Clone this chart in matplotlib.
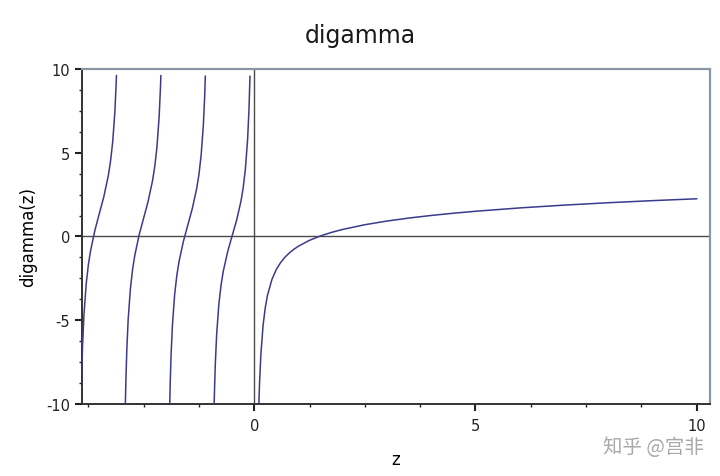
import numpy as np
import matplotlib
matplotlib.use("Agg")
import matplotlib.pyplot as plt
from matplotlib.ticker import MultipleLocator

plt.rcParams["axes.unicode_minus"] = False

# digamma values, one list per branch between the poles
x_b4 = [-3.93, -3.92, -3.915, -3.91, -3.9, -3.88, -3.85, -3.8, -3.75, -3.7, -3.6, -3.5,
        -3.4, -3.3, -3.25, -3.2, -3.15, -3.12, -3.115]
y_b4 = [-12.56, -10.75, -10.0, -9.33, -8.19, -6.46, -4.69, -2.86, -1.69, -0.85, 0.39, 1.39,
        2.38, 3.62, 4.47, 5.64, 7.46, 9.23, 9.60]

x_b3 = [-2.92, -2.915, -2.91, -2.9, -2.88, -2.85, -2.8, -2.75, -2.7, -2.6, -2.5,
        -2.4, -2.3, -2.25, -2.2, -2.15, -2.12, -2.111]
y_b3 = [-11.0, -10.25, -9.58, -8.44, -6.71, -4.95, -3.13, -1.96, -1.12, 0.12, 1.10,
        2.09, 3.32, 4.16, 5.32, 7.15, 8.90, 9.60]

x_b2 = [-1.925, -1.92, -1.915, -1.91, -1.9, -1.88, -1.85, -1.8, -1.75, -1.7, -1.6, -1.5,
        -1.4, -1.3, -1.25, -1.2, -1.15, -1.12, -1.106]
y_b2 = [-12.19, -11.35, -10.60, -9.93, -8.79, -7.06, -5.31, -3.48, -2.32, -1.49, -0.27, 0.70,
        1.67, 2.88, 3.71, 4.87, 6.68, 8.43, 9.57]

x_b1 = [-0.91, -0.9, -0.88, -0.85, -0.8, -0.75, -0.7, -0.6, -0.5, -0.4, -0.3,
        -0.25, -0.2, -0.15, -0.12, -0.1, -0.097]
y_b1 = [-10.45, -9.31, -7.59, -5.85, -4.04, -2.89, -2.07, -0.90, 0.04, 0.96, 2.11,
        2.91, 4.04, 5.81, 7.54, 9.25, 9.56]

x_b0 = [0.1, 0.11, 0.12, 0.15, 0.2, 0.25, 0.3, 0.4, 0.5, 0.6, 0.7, 0.8, 0.9, 1.0,
        1.25, 1.5, 1.75, 2.0, 2.5, 3.0, 3.5, 4.0, 4.5, 5.0, 6.0, 7.0, 8.0, 9.0, 10.0]
y_b0 = [-10.42, -9.50, -8.73, -7.02, -5.29, -4.23, -3.50, -2.56, -1.96, -1.54, -1.22, -0.965,
        -0.755, -0.577, -0.227, 0.037, 0.248, 0.423, 0.703, 0.923, 1.103, 1.256, 1.389,
        1.506, 1.706, 1.873, 2.016, 2.141, 2.252]

branches = [(x_b4, y_b4), (x_b3, y_b3), (x_b2, y_b2), (x_b1, y_b1), (x_b0, y_b0)]

x_ticks = [0, 5, 10]
y_ticks = [-10, -5, 0, 5, 10]

line_color = "#3b3b8c"
frame_color = "#8a96a3"

fig = plt.figure(figsize=(7.2, 4.77), dpi=100)
ax = fig.add_axes([0.1135, 0.151, 0.8725, 0.7022])

for xs, ys in branches:
    ax.plot(xs, ys, color=line_color, linewidth=1.1, zorder=3)

# zero lines
ax.axhline(0, color="#4a4a4a", linewidth=1.0, zorder=2)
ax.axvline(0, color="#4a4a4a", linewidth=1.0, zorder=2)

ax.set_xlim(-3.9, 10.3)
ax.set_ylim(-10, 10)

ax.set_xticks(x_ticks)
ax.set_yticks(y_ticks)
ax.xaxis.set_minor_locator(MultipleLocator(1.25))
ax.yaxis.set_minor_locator(MultipleLocator(1.25))
ax.tick_params(which="major", direction="out", length=5, width=1.5, labelsize=10.5, colors="#222222")
ax.tick_params(which="minor", direction="out", length=2, width=1.0, colors="#222222")
ax.tick_params(axis="x", pad=5)

for side in ("left", "bottom"):
    ax.spines[side].set_color("#333333")
    ax.spines[side].set_linewidth(1.4)
for side in ("top", "right"):
    ax.spines[side].set_color(frame_color)
    ax.spines[side].set_linewidth(1.6)

fig.text(0.5, 0.925, "digamma", ha="center", va="center", fontsize=17, color="#1a1a1a")
ax.set_xlabel("z", fontsize=12, labelpad=12)
ax.set_ylabel("digamma(z)", fontsize=12, labelpad=6)

fig.text(0.978, 0.062, "知乎 @宫非", ha="right", va="center", fontsize=14,
         color="#a8a8a8", family=["Noto Sans CJK SC", "DejaVu Sans"])

fig.savefig("out.png", dpi=100)
